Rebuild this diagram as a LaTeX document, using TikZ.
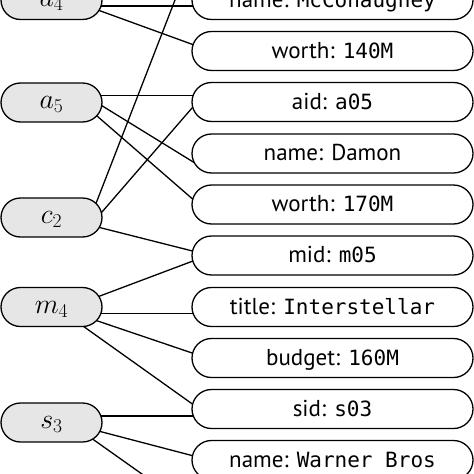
\documentclass[tikz,border=0pt]{standalone}
\usepackage{fix-cm}
\usepackage{fontspec}
\setsansfont{PT Sans}
\setmonofont{DejaVu Sans Mono}
\usetikzlibrary{calc,backgrounds}
\definecolor{nodegray}{RGB}{230,230,230}
\newcommand{\attrval}[1]{{\fontsize{21}{26}\selectfont\ttfamily #1}}
\tikzset{
  ent/.style={draw=black, line width=1.3pt, fill=nodegray, rounded corners=19.5pt,
    minimum width=101pt, minimum height=39pt, inner sep=0pt,
    font=\fontsize{28}{32}\selectfont, text height=12pt, text depth=0pt},
  attr/.style={draw=black, line width=1.3pt, fill=white, rounded corners=19.5pt,
    minimum width=281pt, minimum height=39pt, inner sep=0pt,
    font=\sffamily\fontsize{23}{27}\selectfont, text height=16pt, text depth=2pt},
  link/.style={line width=1.3pt, draw=black}
}
\begin{document}
\begin{tikzpicture}[x=1pt,y=-1pt]
\useasboundingbox (0,0) rectangle (474,474);
\clip (0,0) rectangle (474,474);
% entity nodes
\node[ent] (a4) at (51.5,0) {$a_4$};
\node[ent] (a5) at (51.5,102.5) {$a_5$};
\node[ent] (c2) at (51.5,217.5) {$c_2$};
\node[ent] (m4) at (51.5,307) {$m_4$};
\node[ent] (s3) at (51.5,422.5) {$s_3$};
% attribute nodes
\node[attr] (mcc) at (332.5,0) {name: \attrval{McConaughey}};
\node[attr] (w140) at (332.5,51) {worth: \attrval{140M}};
\node[attr] (aid) at (332.5,102) {aid: \attrval{a05}};
\node[attr] (dam) at (332.5,153.5) {name: Damon};
\node[attr] (w170) at (332.5,204.5) {worth: \attrval{170M}};
\node[attr] (mid) at (332.5,255.5) {mid: \attrval{m05}};
\node[attr] (tit) at (332.5,307) {title: \attrval{Interstellar}};
\node[attr] (bud) at (332.5,358) {budget: \attrval{160M}};
\node[attr] (sid) at (332.5,409) {sid: \attrval{s03}};
\node[attr] (wb) at (332.5,460) {name: \attrval{Warner Bros}};
\coordinate (offtop) at (178.9,-10);
\coordinate (offbottom) at (164.5,490);
\begin{pgfonlayer}{background}
\clip (0,0) rectangle (474,474);
\draw[link] ($(a4.east)+(-8,6)$) -- ($(mcc.west)+(8,6)$);
\draw[link] ($(a4.east)+(-9.5,8.3)$) -- ($(w140.west)+(8.2,-4)$);
\draw[link] ($(c2.east)+(-8.2,-10.1)$) -- (offtop);
\draw[link] ($(a5.east)+(-8,-6.8)$) -- ($(aid.west)+(8,-6.3)$);
\draw[link] ($(a5.east)+(-7.1,-0.7)$) -- ($(dam.west)+(7.1,11.7)$);
\draw[link] ($(a5.east)+(-10.8,9)$) -- ($(w170.west)+(6.4,-1)$);
\draw[link] ($(c2.east)+(-5.6,0.2)$) -- ($(aid.west)+(5,1)$);
\draw[link] ($(c2.east)+(-9.8,8.3)$) -- ($(mid.west)+(7.5,-2.9)$);
\draw[link] ($(m4.east)+(-10.2,-8.2)$) -- ($(mid.west)+(7.2,3.4)$);
\draw[link] ($(m4.east)+(-8,6.3)$) -- ($(tit.west)+(8,6.3)$);
\draw[link] ($(m4.east)+(-10.3,12.2)$) -- ($(bud.west)+(7.3,-2.8)$);
\draw[link] ($(m4.east)+(-25.2,15.1)$) -- ($(sid.west)+(6.5,-1.1)$);
\draw[link] ($(s3.east)+(-8,-6.5)$) -- ($(sid.west)+(8,7)$);
\draw[link] ($(s3.east)+(-7,7.8)$) -- ($(wb.west)+(7.4,-2.7)$);
\draw[link] ($(s3.east)+(-15.2,12.9)$) -- (offbottom);
\end{pgfonlayer}
\end{tikzpicture}
\end{document}
